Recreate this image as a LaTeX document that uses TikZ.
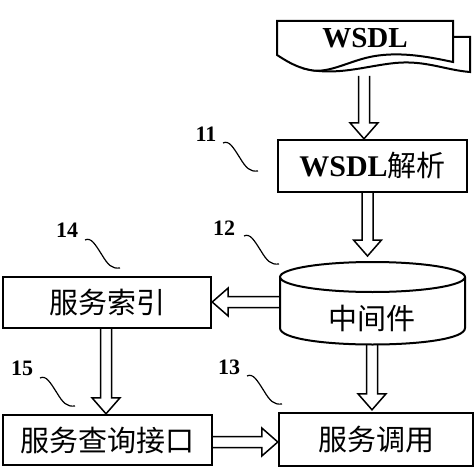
\documentclass[tikz,border=0pt]{standalone}
\usepackage{fontspec}
\setmainfont{Liberation Serif}
\newfontfamily\cjk{Noto Sans CJK SC}
\usetikzlibrary{calc}
% hollow block arrows: #1 start point, #2 end (tip) point
\newcommand\blkdown[2]{\draw[blk] let \p1=(#1), \p2=(#2) in
  (\x1-5.5pt,\y1) -- (\x1-5.5pt,\y2+16pt) -- (\x1-14pt,\y2+16pt) -- (\x1,\y2)
  -- (\x1+14pt,\y2+16pt) -- (\x1+5.5pt,\y2+16pt) -- (\x1+5.5pt,\y1);}
\newcommand\blkright[2]{\draw[blk] let \p1=(#1), \p2=(#2) in
  (\x1,\y1+5.5pt) -- (\x2-16pt,\y1+5.5pt) -- (\x2-16pt,\y1+14pt) -- (\x2,\y1)
  -- (\x2-16pt,\y1-14pt) -- (\x2-16pt,\y1-5.5pt) -- (\x1,\y1-5.5pt);}
\newcommand\blkleft[2]{\draw[blk] let \p1=(#1), \p2=(#2) in
  (\x1,\y1+5.5pt) -- (\x2+16pt,\y1+5.5pt) -- (\x2+16pt,\y1+14pt) -- (\x2,\y1)
  -- (\x2+16pt,\y1-14pt) -- (\x2+16pt,\y1-5.5pt) -- (\x1,\y1-5.5pt);}
\newcommand\squig[2]{\begin{scope}[shift={(#1,#2)}]
  \draw[lead] (0,0) .. controls (6,-3) and (10,4) .. (17,15) .. controls (23,25) and (27,29) .. (35,28);
  \end{scope}}
\begin{document}
\begin{tikzpicture}[x=1pt,y=-1pt,
  box/.style={draw,line width=2.4pt,inner sep=0pt,font=\cjk\fontsize{29}{32}\selectfont},
  blk/.style={line width=1.5pt,line join=miter},
  lead/.style={line width=1.2pt},
  num/.style={font=\bfseries\fontsize{22}{24}\selectfont,inner sep=0pt}]
\useasboundingbox (0,0) rectangle (474,476);

% WSDL document
\draw[line width=2pt] (453,37) -- (470,37) -- (470,72)
  .. controls (445,70) and (425,60) .. (395,63)
  .. controls (365,66) and (335,77) .. (302,68);
\draw[line width=2pt,fill=white] (277,21) -- (453,21) -- (453,62)
  .. controls (425,56) and (400,52) .. (375,56)
  .. controls (350,60) and (330,74) .. (310,70)
  .. controls (295,67) and (285,60) .. (277,55) -- cycle;
\node[font=\bfseries\fontsize{29}{32}\selectfont,inner sep=0pt] (wsdl) at (365,38) {WSDL};
\coordinate (wsdlbot) at (364,76);

% boxes
\node[box,minimum width=189pt,minimum height=52pt] (box11) at (372.5,166)
  {{\rmfamily\bfseries\fontsize{30}{32}\selectfont WSDL}解析};
\node[box,minimum width=208pt,minimum height=51pt] (box14) at (107,302.5) {服务索引};
\node[box,minimum width=209pt,minimum height=50pt] (box15) at (107.5,440) {服务查询接口};
\node[box,minimum width=194pt,minimum height=53pt] (box13) at (376,439.5) {服务调用};

% cylinder
\draw[line width=2pt] (280,277) -- (280,328) .. controls (280,350) and (465,350) .. (465,328) -- (465,277);
\draw[line width=2pt] (372.5,277) ellipse [x radius=92.5, y radius=15];
\node[font=\cjk\fontsize{29}{32}\selectfont,inner sep=0pt] (mid) at (372,318) {中间件};
\coordinate (cyltop) at (372.5,262);
\coordinate (cylleft) at (280,302);
\coordinate (cylbot) at (372,345);

% arrows
\blkdown{wsdlbot}{box11.north}
\blkdown{[xshift=-5pt]box11.south}{[yshift=6pt]cyltop}
\blkleft{cylleft}{box14.east}
\blkdown{[xshift=-1pt]box14.south}{box15.north}
\blkright{[yshift=-2pt]box15.east}{[yshift=-2pt]box13.west}
\blkdown{cylbot}{[yshift=2pt]box13.north}

% labels
\node[num] (n11) at (206,134) {11};
\node[num] (n12) at (224,228) {12};
\node[num] (n14) at (67,230) {14};
\node[num] (n15) at (22,368) {15};
\node[num] (n13) at (229,367) {13};
\squig{223}{143}
\squig{244}{236}
\squig{85}{240}
\squig{40}{378}
\squig{247}{376}
\end{tikzpicture}
\end{document}
